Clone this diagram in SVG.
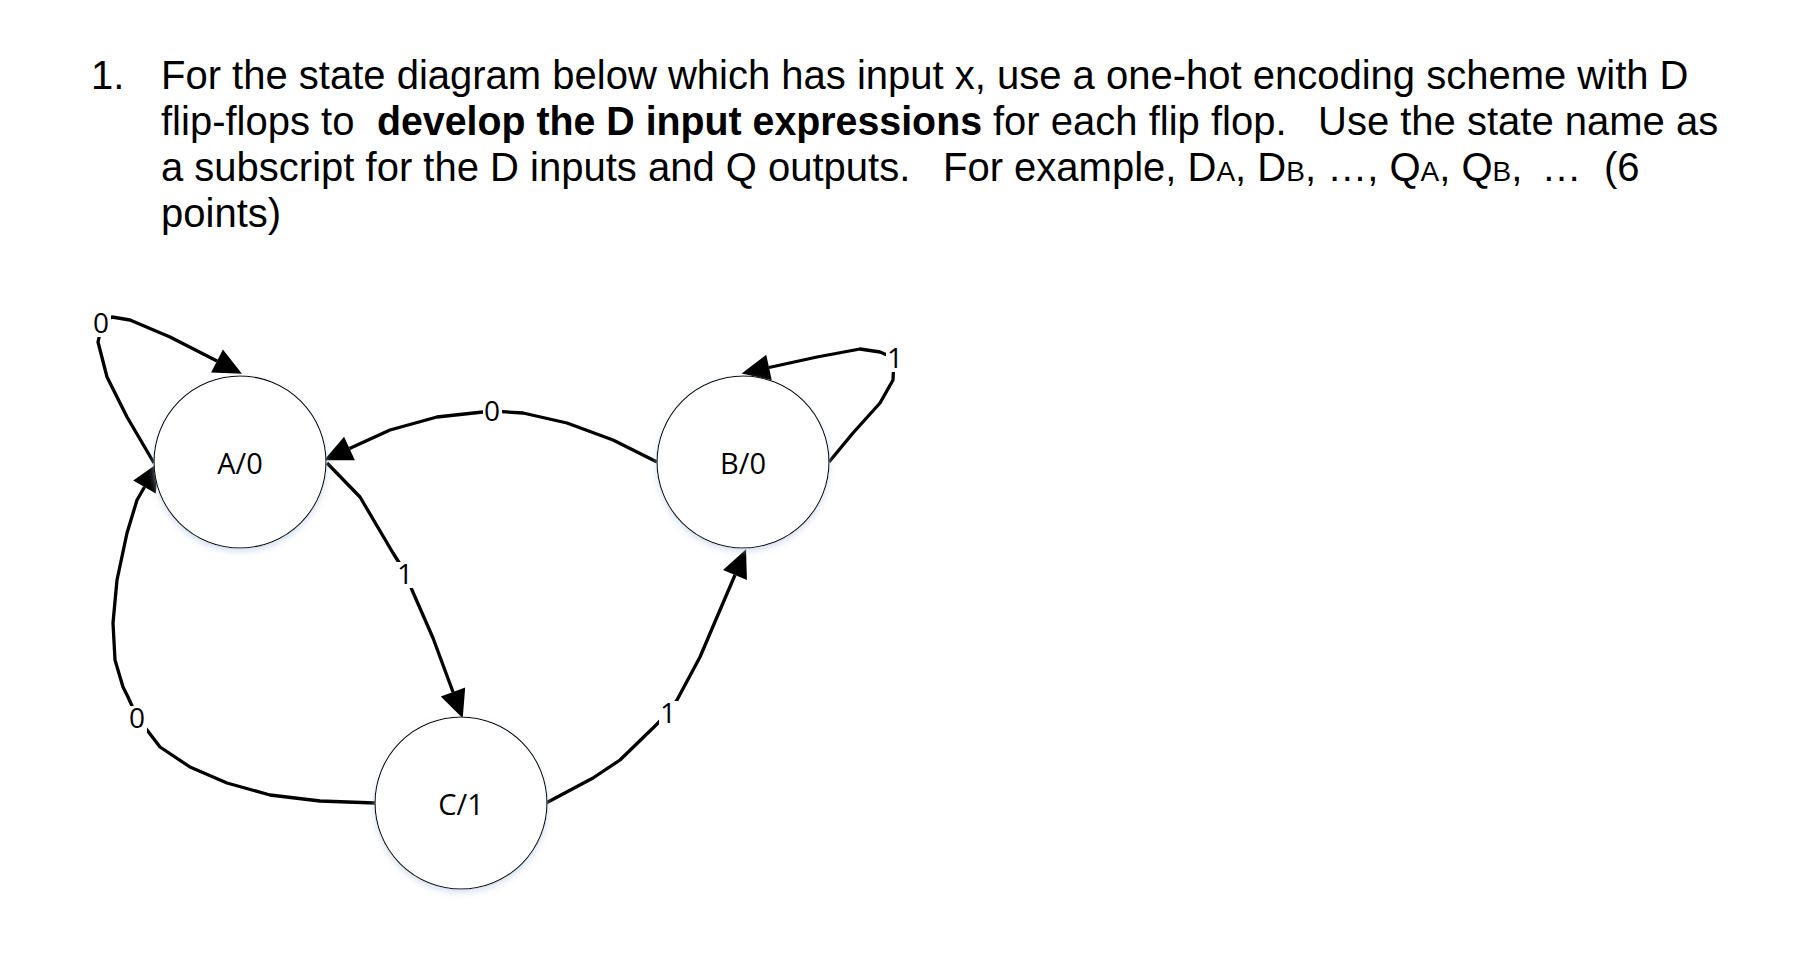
<svg xmlns="http://www.w3.org/2000/svg" width="1818" height="964" viewBox="0 0 1818 964">
  <style>
    .q { font-family: "Liberation Sans", Arial, sans-serif; font-size: 40px; fill: #000; }
    .b { font-weight: bold; }
    .sub { font-size: 28px; }
    .node { fill: #ffffff; stroke: #000; stroke-width: 1.1; }
    .nlab { font-family: "Open Sans", "Noto Sans", sans-serif; font-size: 29px; fill: #000; text-anchor: middle; }
    .edge { fill: none; stroke: #000; stroke-width: 3.3; stroke-linejoin: round; stroke-linecap: butt; }
    .halo { fill: #fff; stroke: none; }
    .elab { font-family: "Open Sans", "Noto Sans", sans-serif; font-size: 28px; fill: #000; text-anchor: middle; }
  </style>
  <defs>
    <marker id="arrow" markerUnits="userSpaceOnUse" markerWidth="30" markerHeight="30" refX="0" refY="0" orient="auto" overflow="visible">
      <path d="M0,-13 L28,0 L0,13 Z" fill="#000"/>
    </marker>
    <filter id="glow" x="-20%" y="-20%" width="140%" height="140%">
      <feDropShadow dx="0" dy="3" stdDeviation="3" flood-color="#b9cbe3" flood-opacity="0.6"/>
    </filter>
  </defs>
  <rect width="1818" height="964" fill="#ffffff"/>

  <g id="question">
    <text class="q" x="91" y="89">1.</text>
    <text class="q" x="161" y="89">For the state diagram below which has input x, use a one-hot encoding scheme with D</text>
    <text class="q" x="161" y="135">flip-flops to</text>
    <text class="q b" x="377" y="135" textLength="605" lengthAdjust="spacingAndGlyphs">develop the D input expressions</text>
    <text class="q" x="993" y="135">for each flip flop.</text>
    <text class="q" x="1318" y="135">Use the state name as</text>
    <text class="q" x="161" y="181">a subscript for the D inputs and Q outputs.</text>
    <text class="q" x="943" y="181">For example, D<tspan class="sub">A</tspan>, D<tspan class="sub">B</tspan>, …, Q<tspan class="sub">A</tspan>, Q<tspan class="sub">B</tspan>, <tspan dx="8">…</tspan></text>
    <text class="q" x="1604" y="181">(6</text>
    <text class="q" x="161" y="227">points)</text>
  </g>

  <g id="connectors">
    <path id="e-A-A" class="edge" marker-end="url(#arrow)" d="M154,463 L127,417 L107,377 L98,342 L102,324 L112,317 L130,320 L170,337 L217,361"/>
    <path id="e-C-A" class="edge" marker-end="url(#arrow)" d="M375,803 L320,801 L270,795 L227,783 L190,767 L160,747 L147,730 L137,717 L128,697 L123,687 L115,660 L113,623 L117,580 L127,533 L137,500 L144.5,487"/>
    <path id="e-A-C" class="edge" marker-end="url(#arrow)" d="M327,463 L360,497 L393,553 L405,572 L412,590 L433,638 L453,692"/>
    <path id="e-B-A" class="edge" marker-end="url(#arrow)" d="M657,462 L613,440 L567,423 L523,413 L492,411 L437,417 L390,430 L349.5,448.5"/>
    <path id="e-C-B" class="edge" marker-end="url(#arrow)" d="M546,803 L593,778 L620,760 L653,728 L667,714 L677,700 L700,657 L717,617 L735,575"/>
    <path id="e-B-B" class="edge" marker-end="url(#arrow)" d="M829,462 L853,433 L880,403 L893,380 L894,358 L880,352 L860,349 L817,357 L769,367.5"/>
  </g>

  <g id="node-A">
    <circle class="node" cx="240" cy="462" r="86" filter="url(#glow)"/>
    <text class="nlab" x="240" y="474">A/0</text>
  </g>
  <g id="node-B">
    <circle class="node" cx="743" cy="462" r="86" filter="url(#glow)"/>
    <text class="nlab" x="743" y="474">B/0</text>
  </g>
  <g id="node-C">
    <circle class="node" cx="461" cy="803" r="86" filter="url(#glow)"/>
    <text class="nlab" x="461" y="815">C/1</text>
  </g>

  <g id="edge-labels">
    <rect class="halo" x="92" y="311" width="19" height="26"/>
    <text class="elab" x="101" y="333">0</text>
    <rect class="halo" x="483" y="399" width="19" height="26"/>
    <text class="elab" x="492" y="421">0</text>
    <rect class="halo" x="396" y="562" width="19" height="26"/>
    <text class="elab" x="405" y="584">1</text>
    <rect class="halo" x="128" y="706" width="19" height="26"/>
    <text class="elab" x="137" y="728">0</text>
    <rect class="halo" x="659" y="701" width="19" height="26"/>
    <text class="elab" x="668" y="723">1</text>
    <rect class="halo" x="886" y="346" width="19" height="26"/>
    <text class="elab" x="895" y="368">1</text>
  </g>
</svg>
